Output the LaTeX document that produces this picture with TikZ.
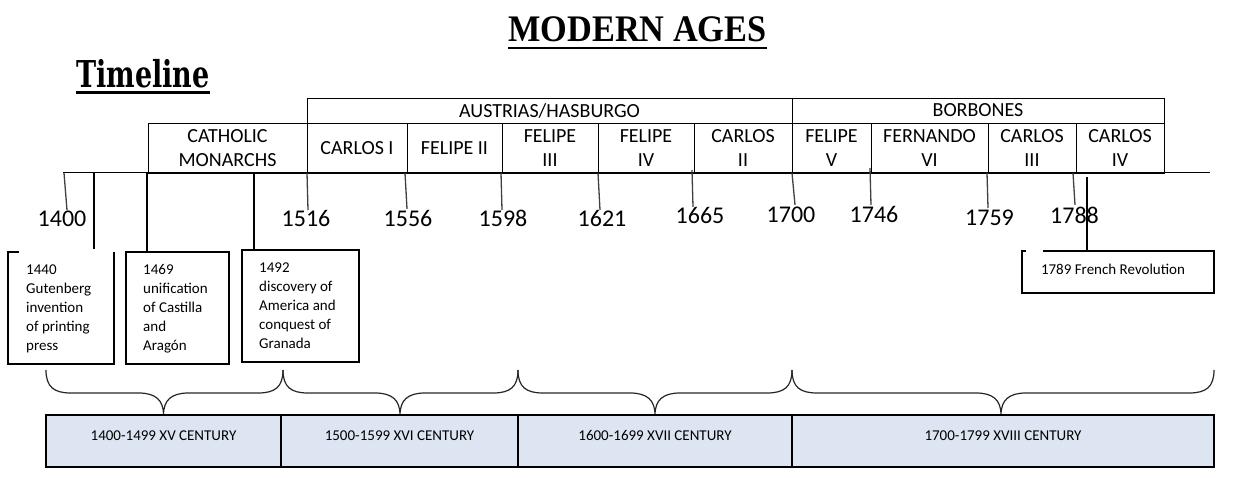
\documentclass[tikz,border=0pt]{standalone}
\usepackage{fontspec}
\setmainfont{Carlito}
\newfontfamily\titlefont{Liberation Serif}
\newfontfamily\tlfont{DejaVu Serif}
\definecolor{cenfill}{RGB}{220,229,241}
\newcommand{\mybrace}[3]{%
  \draw[bracestyle] (#1,370) .. controls (#1,387) and ({#1+8},393) .. ({#1+25},393)
    -- ({#2-25},393) .. controls ({#2-8},393) and (#2,400) .. (#2,415)
    .. controls (#2,400) and ({#2+8},393) .. ({#2+25},393)
    -- ({#3-25},393) .. controls ({#3-8},393) and (#3,387) .. (#3,370);}
\begin{document}
\begin{tikzpicture}[x=1pt,y=-1pt,
  cell/.style={draw, line width=0.9pt, inner sep=0, align=center,
    font=\fontsize{20}{24}\selectfont, minimum height=50},
  dyn/.style={cell, minimum height=25},
  year/.style={font=\fontsize{24}{28}\selectfont, anchor=base, inner sep=0},
  tick/.style={line width=1.3pt, black!75},
  conn/.style={line width=2.2pt},
  evbox/.style={draw, line width=1.8pt, inner sep=0},
  evtext/.style={anchor=north west, inner sep=0, align=left, font=\fontsize{15}{19}\selectfont},
  cen/.style={draw, line width=1.8pt, fill=cenfill, inner sep=0, minimum height=52},
  centext/.style={anchor=base, inner sep=0, font=\fontsize{15}{18}\selectfont},
  bracestyle/.style={line width=1.2pt, black!85}]
\useasboundingbox (0,0) rectangle (1244,478);

% titles
\node[font=\titlefont\bfseries\fontsize{37.5}{40}\selectfont, anchor=base, inner sep=0] (title) at (637.5,42) {\scalebox{0.915}[1]{MODERN AGES}};
\draw[line width=2pt] ([yshift=-6]title.base west) -- ([yshift=-6]title.base east);
\node[font=\tlfont\bfseries\fontsize{37}{40}\selectfont, anchor=base west, inner sep=0] (tline) at (76,88) {\scalebox{0.73}[1]{Timeline}};
\draw[line width=2.5pt] ([yshift=-4.5]tline.base west) -- ([yshift=-4.5]tline.base east);

% header cells
\node[dyn, minimum width=485] (aus) at (549.5,110.5) {AUSTRIAS/HASBURGO};
\node[dyn, minimum width=372] (bor) at (978,110.5) {BORBONES};
\node[cell, minimum width=159] (cm) at (227.5,148) {CATHOLIC\\MONARCHS};
\node[cell, minimum width=100] (c1) at (357,148) {CARLOS I};
\node[cell, minimum width=95] (f2) at (454.5,148) {FELIPE II};
\node[cell, minimum width=96] (f3) at (550,148) {FELIPE\\III};
\node[cell, minimum width=96] (f4) at (646,148) {FELIPE\\IV};
\node[cell, minimum width=98] (c2) at (743,148) {CARLOS\\II};
\node[cell, minimum width=79] (f5) at (831.5,148) {FELIPE\\V};
\node[cell, minimum width=117] (fe6) at (929.5,148) {FERNANDO\\VI};
\node[cell, minimum width=88] (c3) at (1032,148) {CARLOS\\III};
\node[cell, minimum width=88] (c4) at (1120,148) {CARLOS\\IV};

% timeline axis
\coordinate (tl0) at (63,173);
\coordinate (tl1) at (1210,173);
\draw[line width=1pt] (tl0) -- (tl1);

% years and ticks
\foreach \n/\xa/\ya/\xb/\yb/\lx/\ly in {
  1400/64/173/67/210/62/227,
  1516/307/173/308/210/306/227,
  1556/405/173/407/209/408/227,
  1598/501/173/502/210/503/227,
  1621/598/173/600/210/602/227,
  1665/692/170/693/207/700/224,
  1700/792/173/795/205/791/223,
  1746/870/168/871/205/874/223,
  1759/987/173/988/208/989.5/226,
  1788/1073/173/1075/205/1074.5/224}{
  \coordinate (ta\n) at (\xa,\ya);
  \coordinate (tb\n) at (\xb,\yb);
  \node[year] (y\n) at (\lx,\ly) {\n};
  \draw[tick] (ta\n) -- (tb\n);
}

% event boxes
\node[inner sep=0, minimum width=106, minimum height=112] (b1440) at (61,308) {};
\draw[line width=1.8pt] ([xshift=11]b1440.north west) -- (b1440.north west) -- (b1440.south west) -- (b1440.south east) -- (b1440.north east);
\node[evbox, minimum width=103, minimum height=112] (b1469) at (177.5,308) {};
\node[evbox, minimum width=117, minimum height=112] (b1492) at (300.5,306) {};
\node[inner sep=0, minimum width=192, minimum height=42] (b1789) at (1118,272) {};
\draw[line width=1.8pt] ([xshift=4]b1789.north west) -- (b1789.north west) -- (b1789.south west) -- (b1789.south east) -- (b1789.north east) -- ([xshift=21]b1789.north west);

\node[evtext] (x1440) at (26,264.5) {1440\\Gutenberg\\invention\\of printing\\press};
\node[evtext] (x1469) at (143,264.5) {1469\\unification\\of Castilla\\and\\Arag\'on};
\node[evtext] (x1492) at (259,262.5) {1492\\discovery of\\America and\\conquest of\\Granada};
\node[centext] (x1789) at (1113,275) {1789 French Revolution};

% connectors
\coordinate (k1440) at (94,173);
\coordinate (k1469) at (147,173);
\coordinate (k1492) at (254,173);
\coordinate (k1789) at (1087,177);
\draw[conn] (k1440) -- ([yshift=3]k1440 |- b1440.north);
\draw[conn] (k1469) -- (k1469 |- b1469.north);
\draw[conn] (k1492) -- (k1492 |- b1492.north);
\draw[conn] (k1789) -- (k1789 |- b1789.north);

% braces
\mybrace{46}{163.5}{283}
\mybrace{283}{400}{518}
\mybrace{518}{655}{792}
\mybrace{792}{1001}{1214}

% centuries
\node[cen, minimum width=235] (cen15) at (163.5,441) {};
\node[cen, minimum width=237] (cen16) at (399.5,441) {};
\node[cen, minimum width=274] (cen17) at (655,441) {};
\node[cen, minimum width=422] (cen18) at (1003,441) {};
\node[centext] (t15) at (163.5,440) {1400-1499 XV CENTURY};
\node[centext] (t16) at (399.5,440) {1500-1599 XVI CENTURY};
\node[centext] (t17) at (655,440) {1600-1699 XVII CENTURY};
\node[centext] (t18) at (1003,440) {1700-1799 XVIII CENTURY};
\end{tikzpicture}
\end{document}
